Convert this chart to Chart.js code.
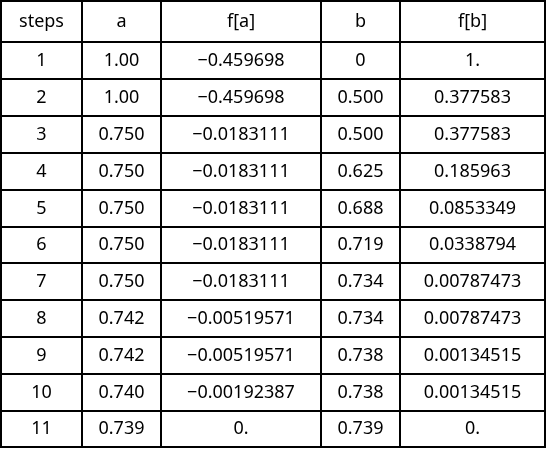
<!DOCTYPE html>
<html><head><meta charset="utf-8">
<script src="https://cdn.jsdelivr.net/npm/chart.js@4/dist/chart.umd.min.js"></script>
<style>html,body{margin:0;padding:0;background:#fff}</style>
</head><body>
<canvas id="c" width="546" height="448"></canvas>
<script>
const headers = ["steps","a","f[a]","b","f[b]"];
const steps = ["1","2","3","4","5","6","7","8","9","10","11"];
const aVals = ["1.00","1.00","0.750","0.750","0.750","0.750","0.750","0.742","0.742","0.740","0.739"];
const faVals = ["−0.459698","−0.459698","−0.0183111","−0.0183111","−0.0183111","−0.0183111","−0.0183111","−0.00519571","−0.00519571","−0.00192387","0."];
const bVals = ["0","0.500","0.500","0.625","0.688","0.719","0.734","0.734","0.738","0.738","0.739"];
const fbVals = ["1.","0.377583","0.377583","0.185963","0.0853349","0.0338794","0.00787473","0.00787473","0.00134515","0.00134515","0."];
// layout constants (cell edges in canvas pixels)
const colEdges = [1,82,161,321,400,545];
const rowEdges = [1,42,79,116,153,190,227,263,300,337,374,411,447];
const columns = [steps,aVals,faVals,bVals,fbVals];

const textPlugin = {
  id:'cells',
  afterDraw(chart){
    const ctx=chart.ctx, xs=chart.scales.x, ys=chart.scales.y;
    ctx.save();
    ctx.fillStyle='#000';
    ctx.font='18px "Noto Sans", "DejaVu Sans", sans-serif';
    ctx.textAlign='center'; ctx.textBaseline='middle';
    for(let c=0;c<5;c++){
      const cx=(xs.getPixelForValue(colEdges[c])+xs.getPixelForValue(colEdges[c+1]))/2;
      for(let r=0;r<12;r++){
        const cy=(ys.getPixelForValue(rowEdges[r])+ys.getPixelForValue(rowEdges[r+1]))/2;
        const t = r===0 ? headers[c] : columns[c][r-1];
        ctx.fillText(t,cx,cy);
      }
    }
    ctx.restore();
  }
};
new Chart(document.getElementById('c'),{
  type:'scatter',
  data:{datasets:[{data:[]}]},
  options:{
    responsive:false,animation:false,
    layout:{padding:0},
    plugins:{legend:{display:false},tooltip:{enabled:false}},
    scales:{
      x:{type:'linear',min:0,max:546,
        afterBuildTicks(s){s.ticks=colEdges.map(v=>({value:v}));},
        grid:{color:'#000',lineWidth:2,drawTicks:false},
        border:{display:true,color:'#000',width:2},ticks:{display:false}},
      y:{type:'linear',min:0,max:448,reverse:true,
        afterBuildTicks(s){s.ticks=rowEdges.map(v=>({value:v}));},
        grid:{color:'#000',lineWidth:2,drawTicks:false},
        border:{display:false},ticks:{display:false}}
    }
  },
  plugins:[textPlugin]
});
</script>
</body></html>
